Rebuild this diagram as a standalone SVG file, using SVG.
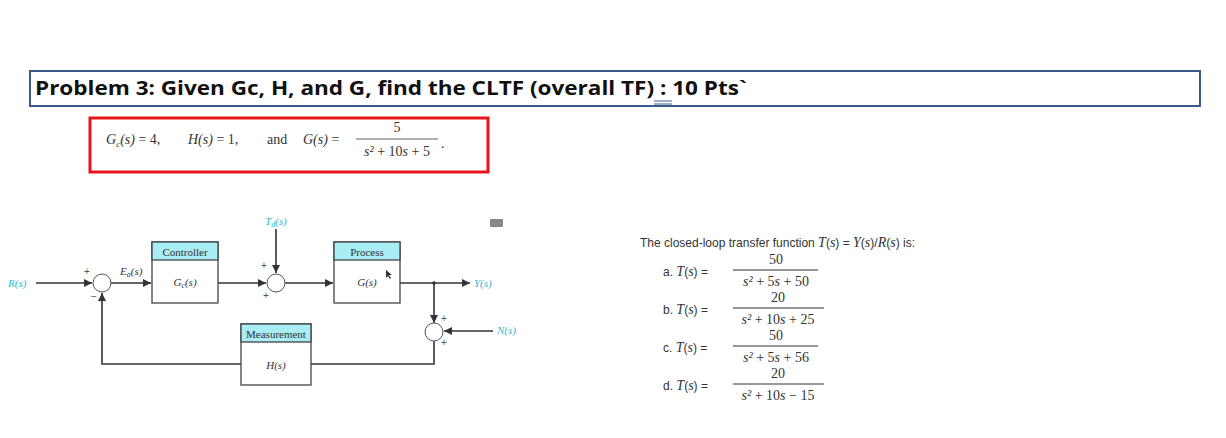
<svg xmlns="http://www.w3.org/2000/svg" width="1226" height="438" viewBox="0 0 1226 438">
<style>
.t{font-family:"Liberation Serif",serif;font-size:11px;fill:#333}
.ti{font-family:"Liberation Serif",serif;font-size:11px;font-style:italic;fill:#333}
.c{font-family:"Liberation Serif",serif;font-size:11px;font-style:italic;fill:#2bb8d8}
.box{fill:#fff;stroke:#444;stroke-width:1.3}
.hd{fill:#a8ecf4;stroke:#444;stroke-width:1.3}
.ln{fill:none;stroke:#333;stroke-width:1.6}
.sum{fill:#fff;stroke:#555;stroke-width:1}
.m{font-family:"Liberation Serif",serif;font-size:14px;fill:#333}
.mi{font-family:"Liberation Serif",serif;font-size:14px;font-style:italic;fill:#333}
.s{font-family:"Liberation Sans",sans-serif;font-size:12px;fill:#333}
.pm{font-family:"Liberation Sans",sans-serif;font-size:10px;fill:#555}
</style>
<defs>
<marker id="a" viewBox="0 0 10 10" refX="10" refY="5" markerWidth="5" markerHeight="5" orient="auto"><path d="M0,0L10,5L0,10z" fill="#333"/></marker>
</defs>
<rect width="1226" height="438" fill="#fff"/>
<g id="title">
<rect x="30" y="71" width="1170" height="35" fill="#fff" stroke="#3a5a8a" stroke-width="2"/>
<text x="35" y="95" font-family="'Open Sans',sans-serif" font-weight="bold" font-size="20" fill="#111" textLength="712" lengthAdjust="spacingAndGlyphs">Problem 3:  Given Gc, H, and G, find the CLTF (overall TF) : 10 Pts`</text>
<path d="M654 101h18M654 104h18" stroke="#3a5a9a" stroke-width="1"/>
</g>
<g id="given">
<rect x="90" y="118" width="398" height="54" fill="none" stroke="#e8141c" stroke-width="3"/>
<text x="106" y="144" class="mi">G<tspan font-size="9" dy="3">c</tspan><tspan dy="-3">(s) </tspan><tspan font-style="normal">= 4,</tspan></text>
<text x="188" y="144" class="mi">H(s) <tspan font-style="normal">= 1,</tspan></text>
<text x="267" y="144" class="m">and</text>
<text x="303" y="144" class="mi">G(s) <tspan font-style="normal">=</tspan></text>
<text x="397" y="132" class="m" font-size="12" text-anchor="middle">5</text>
<line x1="356" y1="139" x2="438" y2="139" stroke="#333" stroke-width="0.8"/>
<text x="397" y="156" class="mi" font-size="12" text-anchor="middle">s² <tspan font-style="normal">+ 10</tspan>s<tspan font-style="normal"> + 5</tspan></text>
<text x="441" y="148" class="m">.</text>
</g>
<g id="connectors">
<path class="ln" d="M36 283H92" marker-end="url(#a)"/>
<path class="ln" d="M111 283H151" marker-end="url(#a)"/>
<path class="ln" d="M218 283H266" marker-end="url(#a)"/>
<path class="ln" d="M276 229V273" marker-end="url(#a)"/>
<path class="ln" d="M285 283H333" marker-end="url(#a)"/>
<path class="ln" d="M400 283H470" marker-end="url(#a)"/>
<path class="ln" d="M434 283V323" marker-end="url(#a)"/>
<path class="ln" d="M493 331H444" marker-end="url(#a)"/>
<path class="ln" d="M434 341V364H311"/>
<path class="ln" d="M241 364H102V293" marker-end="url(#a)"/>
<circle cx="434" cy="283" r="1.8" fill="#333"/>
</g>
<g id="sum1"><circle class="sum" cx="102" cy="283" r="9"/><text x="84" y="275" class="pm">+</text><text x="91" y="300" class="pm">−</text></g>
<g id="sum2"><circle class="sum" cx="276" cy="283" r="9"/><text x="261" y="269" class="pm">+</text><text x="263" y="299" class="pm">+</text></g>
<g id="sum3"><circle class="sum" cx="434" cy="332" r="9"/><text x="441" y="322" class="pm">+</text><text x="441" y="346" class="pm">+</text></g>
<g id="controller"><rect class="box" x="152" y="242" width="66" height="61"/><rect class="hd" x="152" y="242" width="66" height="18"/><text x="185" y="256" class="t" text-anchor="middle">Controller</text><text x="185" y="286" class="ti" text-anchor="middle">G<tspan font-size="8" dy="2">c</tspan><tspan dy="-2">(s)</tspan></text></g>
<g id="process"><rect class="box" x="334" y="242" width="66" height="61"/><rect class="hd" x="334" y="242" width="66" height="18"/><text x="367" y="256" class="t" text-anchor="middle">Process</text><text x="367" y="286" class="ti" text-anchor="middle">G(s)</text><path d="M386 270l0 8 2-2 2 3 1-1-2-3 3 0z" fill="#333"/></g>
<g id="measurement"><rect class="box" x="241" y="324" width="70" height="61"/><rect class="hd" x="241" y="324" width="70" height="18"/><text x="276" y="338" class="t" text-anchor="middle">Measurement</text><text x="276" y="369" class="ti" text-anchor="middle">H(s)</text></g>
<text x="8" y="287" class="c">R(s)</text>
<text x="120" y="275" class="ti">E<tspan font-size="8" dy="2">a</tspan><tspan dy="-2">(s)</tspan></text>
<text x="265" y="225" class="c">T<tspan font-size="8" dy="2">d</tspan><tspan dy="-2">(s)</tspan></text>
<text x="474" y="287" class="c">Y(s)</text>
<text x="497" y="334" class="c">N(s)</text>
<rect x="490" y="219" width="13" height="8" rx="1" fill="#888"/>
<g id="answers">
<text x="640" y="247" class="s">The closed-loop transfer function <tspan class="mi" font-size="13">T</tspan>(<tspan class="mi" font-size="13">s</tspan>) = <tspan class="mi" font-size="13">Y</tspan>(<tspan class="mi" font-size="13">s</tspan>)/<tspan class="mi" font-size="13">R</tspan>(<tspan class="mi" font-size="13">s</tspan>) is:</text>
<text x="663" y="276" class="s">a. <tspan class="mi">T</tspan>(<tspan class="mi">s</tspan>) =</text>
<text x="776" y="264" class="m" text-anchor="middle">50</text><line x1="733" y1="270" x2="818" y2="270" stroke="#333"/><text x="776" y="286" class="mi" text-anchor="middle">s² <tspan font-style="normal">+ 5</tspan>s<tspan font-style="normal"> + 50</tspan></text>
<text x="663" y="314" class="s">b. <tspan class="mi">T</tspan>(<tspan class="mi">s</tspan>) =</text>
<text x="778" y="302" class="m" text-anchor="middle">20</text><line x1="733" y1="308" x2="824" y2="308" stroke="#333"/><text x="778" y="324" class="mi" text-anchor="middle">s² <tspan font-style="normal">+ 10</tspan>s<tspan font-style="normal"> + 25</tspan></text>
<text x="663" y="352" class="s">c. <tspan class="mi">T</tspan>(<tspan class="mi">s</tspan>) =</text>
<text x="776" y="340" class="m" text-anchor="middle">50</text><line x1="733" y1="346" x2="818" y2="346" stroke="#333"/><text x="776" y="362" class="mi" text-anchor="middle">s² <tspan font-style="normal">+ 5</tspan>s<tspan font-style="normal"> + 56</tspan></text>
<text x="663" y="390" class="s">d. <tspan class="mi">T</tspan>(<tspan class="mi">s</tspan>) =</text>
<text x="778" y="378" class="m" text-anchor="middle">20</text><line x1="733" y1="384" x2="824" y2="384" stroke="#333"/><text x="778" y="400" class="mi" text-anchor="middle">s² <tspan font-style="normal">+ 10</tspan>s<tspan font-style="normal"> − 15</tspan></text>
</g>
</svg>
